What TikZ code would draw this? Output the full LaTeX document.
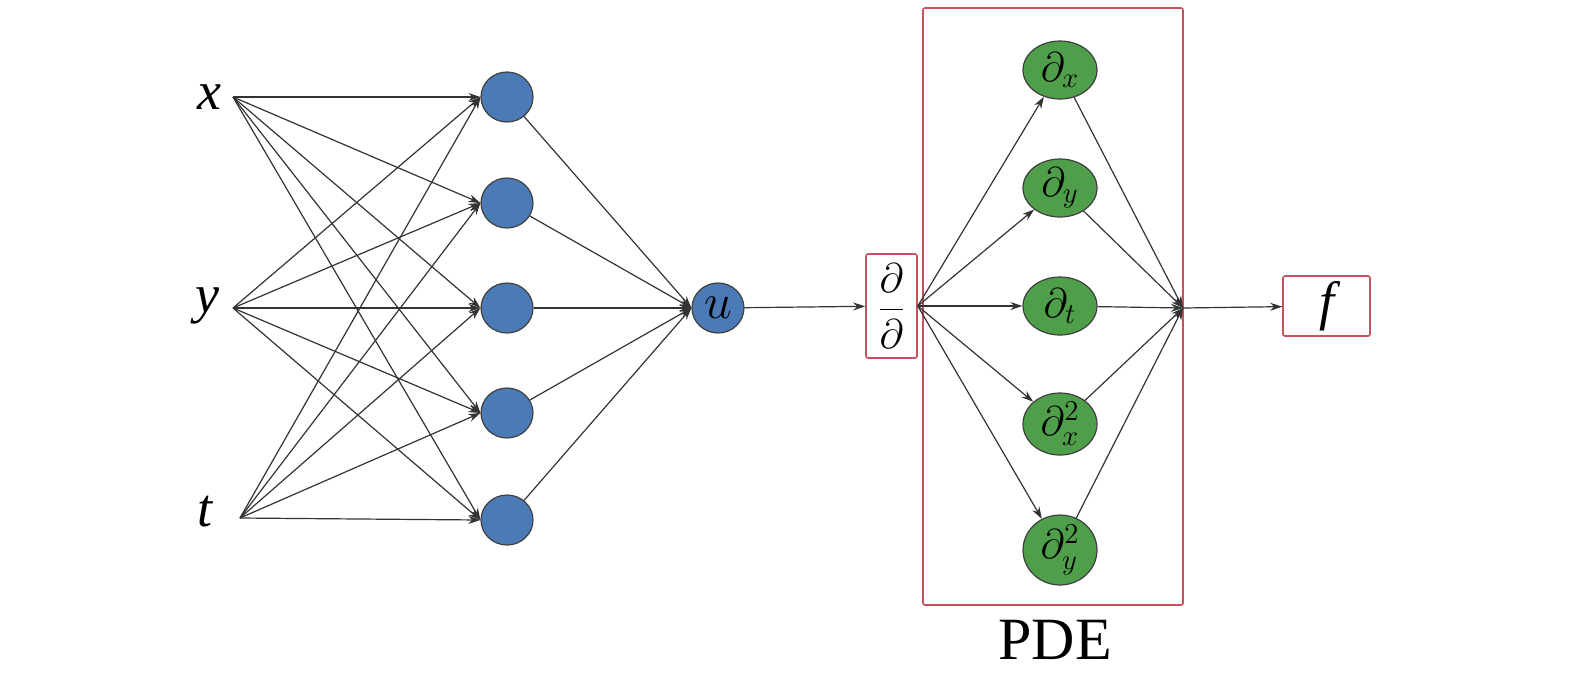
\documentclass[tikz,border=0pt]{standalone}
\usepackage{fontspec}
\setmainfont{Liberation Serif}
\usetikzlibrary{arrows.meta,shapes.geometric}
\begin{document}
\begin{tikzpicture}[x=0.5pt,y=-0.5pt,
  edge/.style={draw=black!80,line width=0.6pt,-{Stealth[length=6pt,width=4pt]}},
  hid/.style={ellipse,draw=black!75,line width=0.6pt,fill=blue2,minimum width=26pt,minimum height=25pt,inner sep=0pt},
  grn/.style={ellipse,draw=black!75,line width=0.6pt,fill=green2,minimum width=37pt,minimum height=29pt,inner sep=0pt,font=\fontsize{22}{24}\selectfont},
  rbox/.style={draw=red2,line width=0.8pt,rounded corners=1pt},
  lab/.style={font=\fontsize{27}{30}\selectfont\itshape}]
\definecolor{blue2}{HTML}{4A7BB7}
\definecolor{green2}{HTML}{4E9E4A}
\definecolor{red2}{HTML}{C8505F}
\useasboundingbox (0,0) rectangle (1575,677);
\node[lab] (lx) at (209,97) {x};
\node[lab] (ly) at (207,306) {y};
\node[lab] (lt) at (205,512) {t};
\coordinate (ix) at (233,97);
\coordinate (iy) at (233,308);
\coordinate (it) at (240,518);
\foreach \i/\yy in {1/97,2/203,3/308,4/413,5/520}{
  \node[hid] (h\i) at (507,\yy) {};
}
\node[hid] (u) at (718,308) {\fontsize{24}{26}\selectfont$u$};
\foreach \s in {ix,iy,it}{
  \foreach \i in {1,...,5}{
    \draw[edge] (\s) -- (h\i.west);
  }
}
\foreach \i in {1,...,5}{ \draw[edge] (h\i) -- (u.west); }
\node[rbox,minimum width=25.5pt,minimum height=52pt,inner sep=0pt] (d) at (891.5,306) {\fontsize{22}{24}\selectfont$\displaystyle\frac{\partial}{\partial}$};
\draw[edge] (u) -- (d);
\node[rbox,minimum width=130pt,minimum height=298.5pt,inner sep=0pt] (pde) at (1053,306.5) {};
\node[font=\fontsize{30}{32}\selectfont] (pl) at (1055,640) {PDE};
\node[grn] (g1) at (1060,70) {$\partial_x$};
\node[grn] (g2) at (1060,188) {$\partial_y$};
\node[grn] (g3) at (1060,306) {$\partial_t$};
\node[grn] (g4) at (1060,424) {$\partial_x^2$};
\node[grn] (g5) at (1060,550) {$\partial_y^2$};
\coordinate (c) at (1183,308);
\foreach \i in {1,...,5}{
  \draw[edge] (d.east) -- (g\i);
  \draw[edge] (g\i) -- (c);
}
\node[rbox,minimum width=43.5pt,minimum height=30pt,inner sep=0pt,lab] (f) at (1326.5,306) {f};
\draw[edge] (c) -- (f);
\end{tikzpicture}
\end{document}
